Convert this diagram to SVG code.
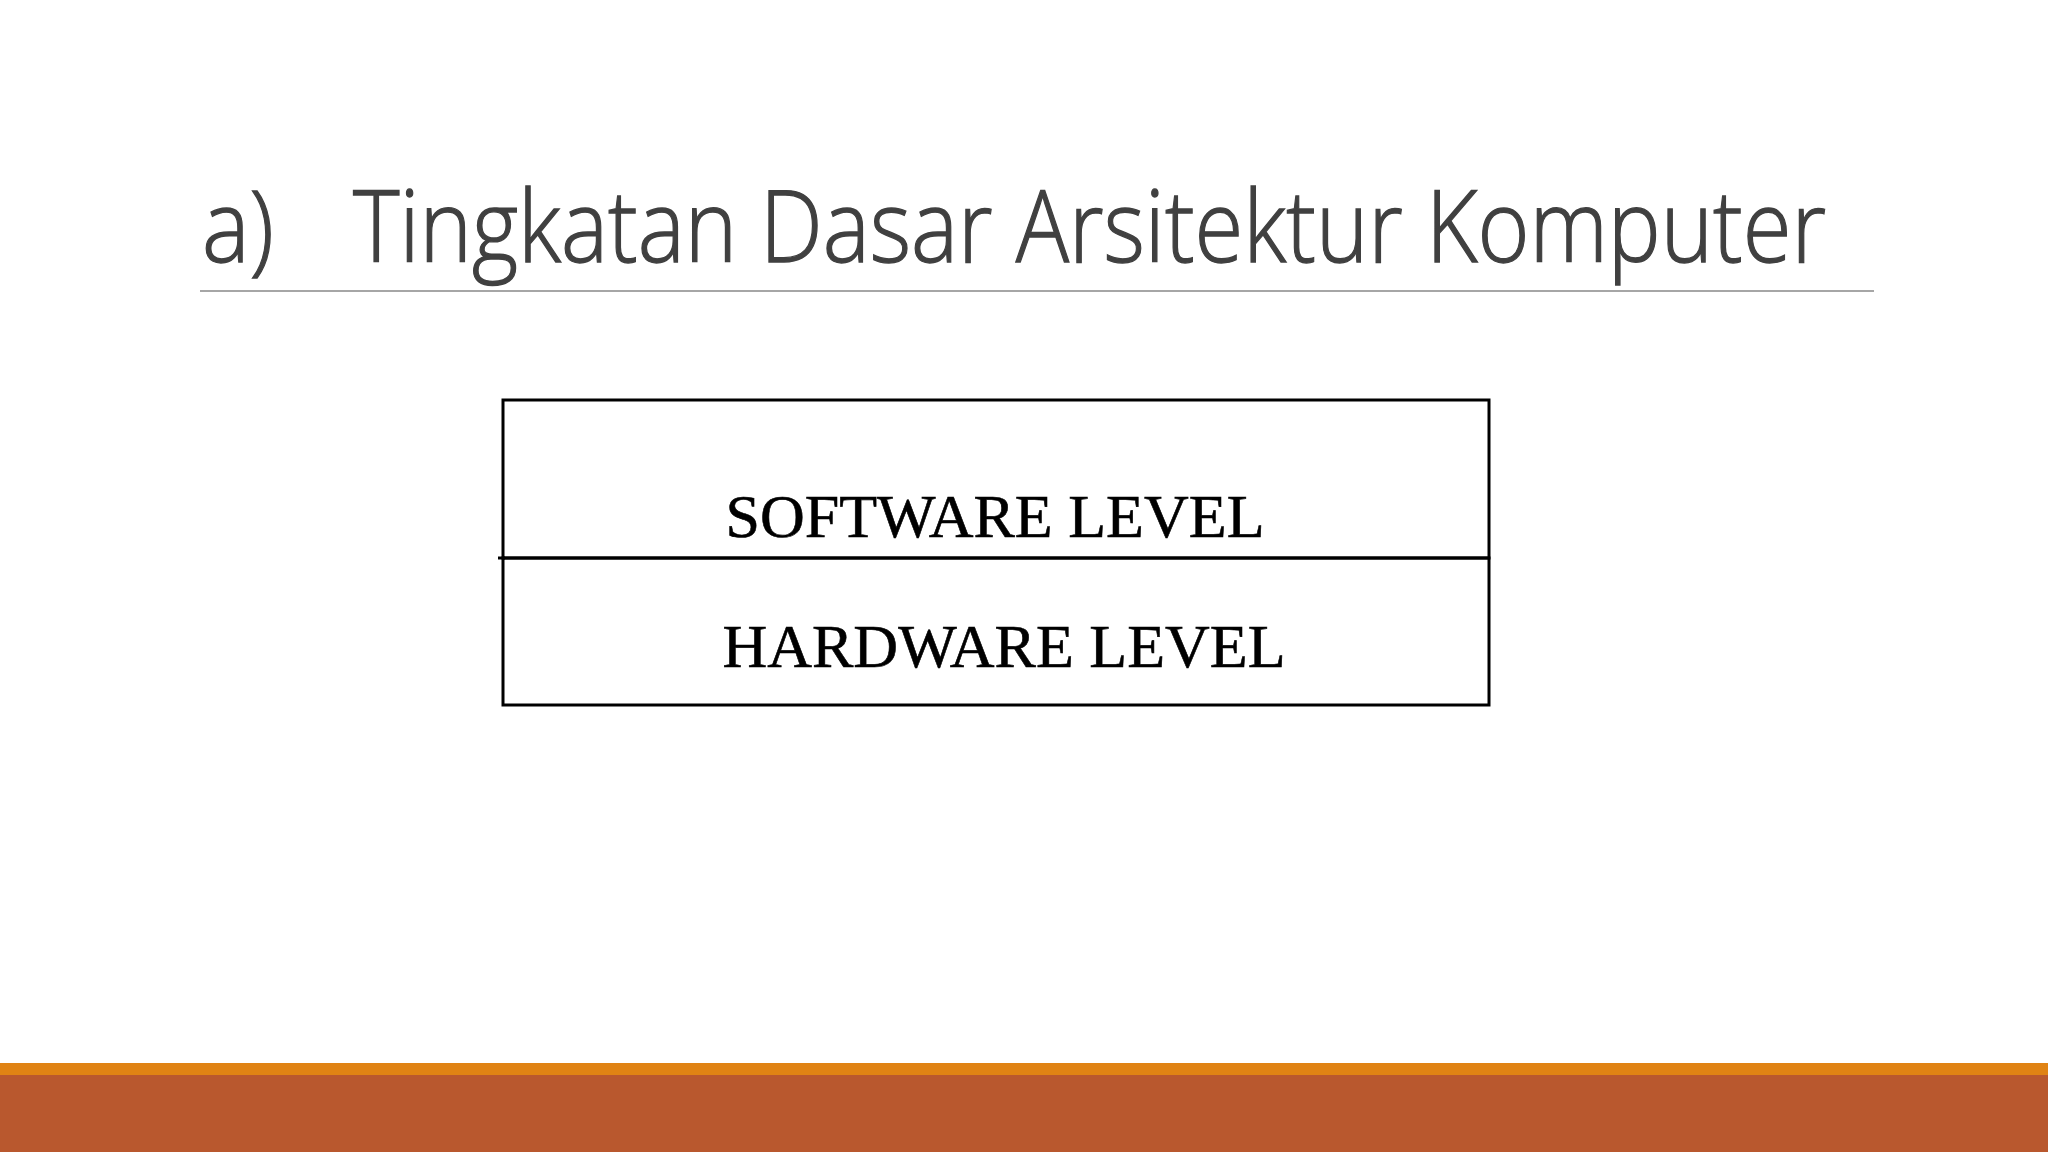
<svg xmlns="http://www.w3.org/2000/svg" width="2048" height="1152" viewBox="0 0 2048 1152">
<style>
.title{font-family:"Open Sans","Liberation Sans",sans-serif;font-weight:300;font-size:100px;fill:#404040;stroke:#404040;stroke-width:1.3}
.lbl{font-family:"Liberation Serif","Times New Roman",serif;font-size:62px;fill:#000;stroke:#000;stroke-width:0.6}
.box{fill:none;stroke:#000;stroke-width:3}
</style>
<rect x="0" y="0" width="2048" height="1152" fill="#fff"/>
<g id="title">
<text class="title" x="202" y="262" textLength="72" lengthAdjust="spacingAndGlyphs">a)</text>
<text class="title" x="353" y="262" textLength="1473" lengthAdjust="spacingAndGlyphs">Tingkatan Dasar Arsitektur Komputer</text>
<line x1="200" y1="291" x2="1874" y2="291" stroke="#a6a6a6" stroke-width="2"/>
</g>
<g id="software">
<rect class="box" x="503" y="400" width="986" height="158"/>
<text class="lbl" x="995" y="537" text-anchor="middle">SOFTWARE LEVEL</text>
</g>
<g id="hardware">
<rect class="box" x="503" y="558" width="986" height="147"/>
<text class="lbl" x="1004" y="667" text-anchor="middle">HARDWARE LEVEL</text>
</g>
<g id="connectors">
<line x1="498" y1="558" x2="505" y2="558" stroke="#000" stroke-width="3"/>
</g>
<g id="footer">
<rect x="0" y="1063" width="2048" height="12" fill="#E08314"/>
<rect x="0" y="1075" width="2048" height="77" fill="#B9582E"/>
</g>
</svg>
